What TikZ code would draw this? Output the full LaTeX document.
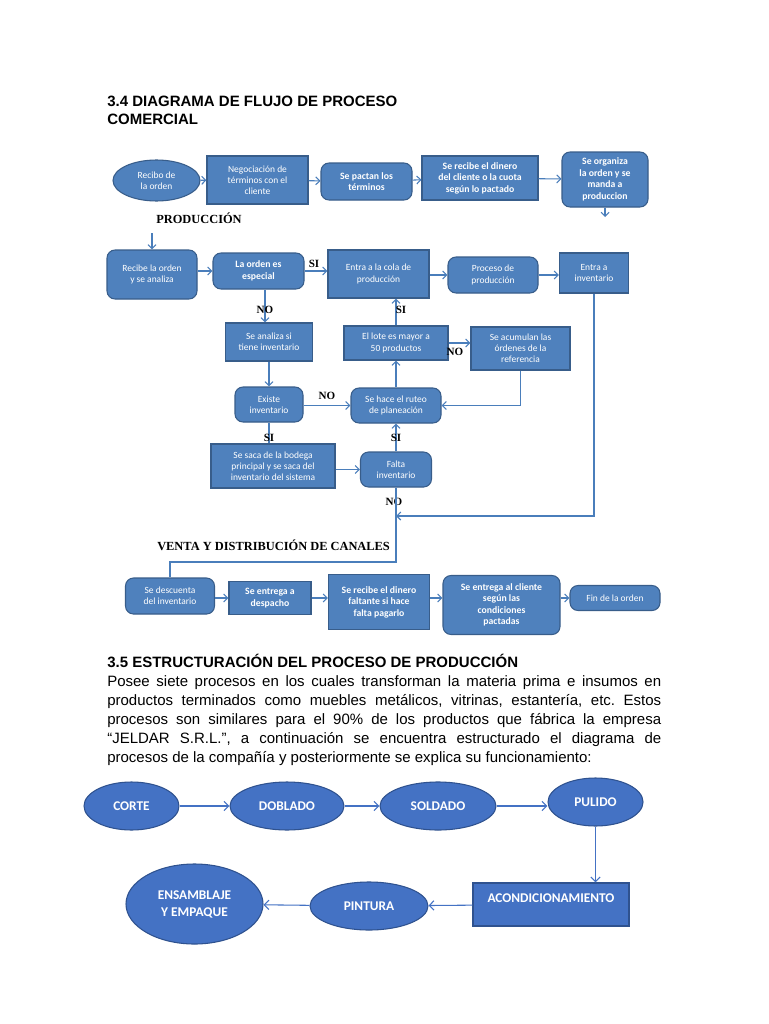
\documentclass[tikz,border=0pt]{standalone}
\usepackage{fontspec}
\setmainfont{Liberation Sans}
\newfontfamily\calib{Carlito}
\newfontfamily\tnr{Liberation Serif}
\usetikzlibrary{shapes.geometric,arrows.meta}
\definecolor{boxfill}{HTML}{4F81BD}
\definecolor{boxline}{HTML}{385D8A}
\definecolor{arrcol}{HTML}{4A7EBB}
\definecolor{bfill}{HTML}{4472C4}
\definecolor{bline}{HTML}{2F528F}
\frenchspacing
\begin{document}
\begin{tikzpicture}[x=0.75pt,y=-0.75pt,
  wd/.style={minimum width=#1*0.75pt},
  ht/.style={minimum height=#1*0.75pt},
  nbox/.style={draw=boxline, fill=boxfill, line width=0.8pt, text=white, inner sep=1pt, align=center, font=\calib\fontsize{7.1}{8.3}\selectfont},
  sq/.style={nbox, rectangle},
  rnd/.style={nbox, rectangle, rounded corners=6pt},
  ell/.style={nbox, ellipse},
  bd/.style={font=\calib\bfseries\fontsize{7.3}{8.6}\selectfont},
  arr/.style={draw=arrcol, line width=0.8pt, -{Straight Barb[length=3pt,width=6pt]}},
  ln/.style={draw=arrcol, line width=0.8pt},
  yn/.style={font=\tnr\bfseries\fontsize{8.3}{9}\selectfont, inner sep=0pt},
  sec/.style={font=\tnr\bfseries\fontsize{9.3}{11}\selectfont, inner sep=0pt, anchor=base west},
  head/.style={font=\bfseries\fontsize{11.25}{13}\selectfont, inner sep=0pt, anchor=base west},
  pb/.style={draw=bline, fill=bfill, line width=0.8pt, text=white, inner sep=1pt, align=center, font=\calib\bfseries\fontsize{10}{12.75}\selectfont},
  pell/.style={pb, ellipse},
  parr/.style={draw=bfill, line width=0.8pt, -{Straight Barb[length=3.5pt,width=7pt]}},
]
\useasboundingbox (0,0) rectangle (768,1024);
\fill[white] (0,0) rectangle (768,1024);

% ---------- titles ----------
\node[head] (t1) at (107,106) {3.4 DIAGRAMA DE FLUJO DE PROCESO};
\node[head] (t2) at (107,124) {COMERCIAL};

% ---------- top row ----------
\node[ell, wd=87, ht=41] (rec) at (156.5,180.5) {Recibo de\\la orden};
\node[sq, wd=101, ht=48] (neg) at (257.5,180) {Negociación de\\términos con el\\cliente};
\node[rnd, bd, wd=91, ht=37] (pac) at (366.5,181.5) {Se pactan los\\términos};
\node[sq, bd, wd=116, ht=44] (din) at (480,178) {Se recibe el dinero\\del cliente o la cuota\\según lo pactado};
\node[rnd, bd, wd=86, ht=55] (org) at (605,179.5) {Se organiza\\la orden y se\\manda a\\produccion};
\draw[arr] (rec) -- (neg);
\draw[arr] (neg) -- (pac);
\draw[arr] (pac) -- (din);
\draw[arr] (din) -- (org);
\coordinate (orgend) at (605,217);
\draw[arr] (org.south) -- (orgend);

\node[sec] (prod) at (156,223) {PRODUCCIÓN};
\coordinate (prodarr) at (152,233);

% ---------- production ----------
\node[rnd, wd=90, ht=49] (rcb) at (152,274.5) {Recibe la orden\\y se analiza};
\node[rnd, bd, wd=91, ht=36] (esp) at (258.5,271) {La orden es\\especial};
\node[sq, wd=101, ht=48] (cola) at (378.5,274) {Entra a la cola de\\producción};
\node[rnd, wd=90, ht=36] (proc) at (493,275) {Proceso de\\producción};
\node[sq, wd=69, ht=40] (inv) at (594,273) {Entra a\\inventario};
\node[sq, wd=87, ht=38] (anl) at (269,342) {Se analiza si\\tiene inventario};
\node[rnd, wd=68, ht=35] (exi) at (269,404.5) {Existe\\inventario};
\node[rnd, wd=90, ht=35] (rut) at (396,405.5) {Se hace el ruteo\\de planeación};
\node[sq, wd=104, ht=34] (lote) at (396,343) {El lote es mayor a\\50 productos};
\node[sq, wd=99, ht=43] (acu) at (520.5,348.5) {Se acumulan las\\órdenes de la\\referencia};
\node[sq, wd=124, ht=44] (saca) at (273,466) {Se saca de la bodega\\principal y se saca del\\inventario del sistema};
\node[rnd, wd=71, ht=35] (fal) at (396,469.5) {Falta\\inventario};

\draw[arr] (prodarr) -- (rcb.north);
\draw[arr] (rcb.east |- esp) -- (esp.west);
\draw[arr] (esp.east) -- (esp.east -| cola.west);
\draw[arr] (cola.east |- proc) -- (proc.west);
\draw[arr] (proc.east) -- (proc.east -| inv.west);
\draw[arr] (esp.south -| 265,0) -- (anl.north -| 265,0);
\draw[arr] (anl) -- (exi);
\draw[arr] (exi.east |- rut) -- (rut.west);
\draw[ln] (exi.south) -- (exi.south |- saca.north);
\draw[arr] (saca.east |- fal) -- (fal.west);
\draw[arr] (fal) -- (rut);
\draw[arr] (rut) -- (lote);
\draw[arr] (lote.north) -- (lote.north |- cola.south);
\draw[arr] (lote.east) -- (lote.east -| acu.west);
\draw[arr] (acu.south) |- (rut.east);
\coordinate (jn) at (396,516);
\draw[arr] (inv.south) |- (jn);
\coordinate (cn) at (170,562);

\node[yn] (l1) at (314,264) {SI};
\node[yn] (l2) at (265,310) {NO};
\node[yn] (l3) at (327,396) {NO};
\node[yn] (l4) at (269,438) {SI};
\node[yn] (l5) at (396,438) {SI};
\node[yn] (l6) at (401,310) {SI};
\node[yn] (l7) at (455,352) {NO};
\node[yn] (l8) at (394,502) {NO};

\node[sec] (venta) at (157,550) {VENTA Y DISTRIBUCIÓN DE CANALES};

% ---------- sales row ----------
\node[rnd, wd=89, ht=36] (desc) at (170,596) {Se descuenta\\del inventario};
\node[sq, bd, wd=82, ht=33] (desp) at (270,598) {Se entrega a\\despacho};
\node[sq, bd, wd=101, ht=55] (dinf) at (379,602) {Se recibe el dinero\\faltante si hace\\falta pagarlo};
\node[rnd, bd, wd=117, ht=59] (ent) at (501.5,605) {Se entrega al cliente\\según las\\condiciones\\pactadas};
\node[rnd, wd=90, ht=25] (fin) at (615,598) {Fin de la orden};

\draw[ln] (fal.south) |- (cn) -- (desc.north);
\draw[arr] (desc.east |- desp) -- (desp.west);
\draw[arr] (desp.east) -- (desp.east -| dinf.west);
\draw[arr] (dinf.east |- desp) -- (ent.west |- desp);
\draw[arr] (ent.east |- fin) -- (fin.west);

% ---------- section 3.5 ----------
\node[head] (t3) at (107,667) {3.5 ESTRUCTURACIÓN DEL PROCESO DE PRODUCCIÓN};
\node[anchor=north west, inner sep=0pt, text width=415.5pt, align=justify,
      font=\fontsize{11.25}{14.25}\selectfont] (para) at (107,675)
  {Posee siete procesos en los cuales transforman la materia prima e insumos en\linebreak
   productos terminados como muebles metálicos, vitrinas, estantería, etc. Estos\linebreak
   procesos son similares para el 90\% de los productos que fábrica la empresa\linebreak
   “JELDAR S.R.L.”, a continuación se encuentra estructurado el diagrama de\linebreak
   procesos de la compañía y posteriormente se explica su funcionamiento:};

% ---------- production process ----------
\node[pell, wd=95, ht=48] (corte) at (131.5,806) {CORTE};
\node[pell, wd=114, ht=48] (dob) at (287,806) {DOBLADO};
\node[pell, wd=116, ht=48] (sol) at (438,806) {SOLDADO};
\node[pell, wd=95, ht=48] (pul) at (595.5,802) {PULIDO};
\node[pb, rectangle, wd=156, ht=43,
      label={[name=acotxt, anchor=north, yshift=-8pt, inner sep=0pt, text=white, font=\calib\bfseries\fontsize{10}{12}\selectfont]north:ACONDICIONAMIENTO}] (aco) at (551,904.5) {};
\node[pell, wd=118, ht=48] (pint) at (369,906) {PINTURA};
\node[pell, wd=137, ht=80] (ens) at (194.5,904) {ENSAMBLAJE\\Y EMPAQUE};

\draw[parr] (corte) -- (dob);
\draw[parr] (dob) -- (sol);
\draw[parr] (sol.east) -- (sol.east -| pul.west);
\draw[parr] (pul.south) -- (pul.south |- aco.north);
\draw[parr] (aco) -- (pint);
\draw[parr] (pint) -- (ens);
\end{tikzpicture}
\end{document}
